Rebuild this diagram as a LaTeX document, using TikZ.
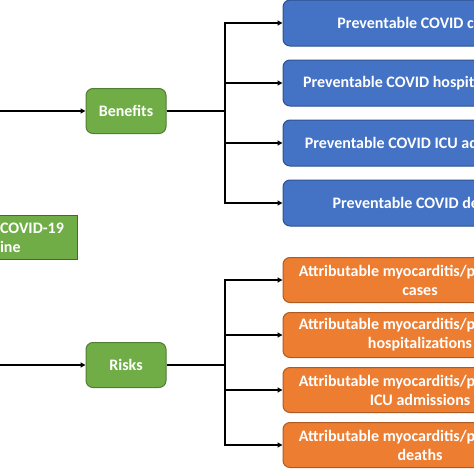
\documentclass[tikz,border=0pt]{standalone}
\usepackage{fontspec}
\setmainfont{Carlito}
\definecolor{vacgreen}{RGB}{112,173,71}
\definecolor{vacgreendark}{RGB}{80,126,50}
\definecolor{vacborder}{RGB}{66,92,112}
\definecolor{benblue}{RGB}{68,114,196}
\definecolor{benbluedark}{RGB}{47,82,143}
\definecolor{riskorange}{RGB}{237,125,49}
\definecolor{riskorangedark}{RGB}{174,90,33}
\usetikzlibrary{arrows.meta, positioning}

\begin{document}
\begin{tikzpicture}[x=1pt, y=-1pt,
          txt/.style={text=white, font=\bfseries\fontsize{16}{19}\selectfont, align=center},
          vacbox/.style={txt, draw=vacborder, fill=vacgreen, line width=1pt,
              minimum width=162pt, minimum height=44pt},
          catbox/.style={txt, draw=vacgreendark, fill=vacgreen, line width=1pt,
              rounded corners=7pt, minimum width=80pt, minimum height=45pt},
          benbox/.style={txt, draw=benbluedark, fill=benblue, line width=1pt,
              rounded corners=7pt, minimum width=274pt, minimum height=46pt},
          riskbox/.style={txt, draw=riskorangedark, fill=riskorange, line width=1pt,
              rounded corners=7pt, minimum width=274pt, minimum height=45pt},
          conn/.style={black, line width=1.6pt},
          arr/.style={conn, -{Triangle[length=5pt, width=5pt]}}
        ]
        \useasboundingbox (0,0) rectangle (474,474);
        \clip (0,0) rectangle (474,474);
        % vaccine and the two branches
        \node[vacbox] (vac) at (-4,237) {BNT162b2 COVID-19\\vaccine};
        \node[catbox] (ben) at (126,111) {Benefits};
        \node[catbox] (risk) at (126,365) {Risks};
        % benefit outcomes
        \node[benbox] (pcases) at (420,23) {Preventable COVID cases};
        \node[benbox, below=13pt of pcases] (phosp) {Preventable COVID hospitalizations};
        \node[benbox, below=13pt of phosp] (picu) {Preventable COVID ICU admissions};
        \node[benbox, below=13pt of picu] (pdeath) {Preventable COVID deaths};
        % risk outcomes
        \node[riskbox] (acases) at (420,280) {Attributable myocarditis/pericarditis\\cases};
        \node[riskbox, below=9pt of acases] (ahosp) {Attributable myocarditis/pericarditis\\hospitalizations};
        \node[riskbox, below=9pt of ahosp] (aicu) {Attributable myocarditis/pericarditis\\ICU admissions};
        \node[riskbox, below=9pt of aicu] (adeath) {Attributable myocarditis/pericarditis\\deaths};
        % connectors
        \draw[arr] (vac.west) -- ++(-20,0) |- (ben);
        \draw[arr] (vac.west) -- ++(-20,0) |- (risk);
        \coordinate (bensplit) at (225,111);
        \coordinate (risksplit) at (225,365);
        \draw[conn] (ben) -- (bensplit);
        \draw[conn] (risk) -- (risksplit);
        \foreach \n in {pcases, phosp, picu, pdeath}
          \draw[arr] (bensplit) |- (\n);
        \foreach \n in {acases, ahosp, aicu, adeath}
          \draw[arr] (risksplit) |- (\n);
      \end{tikzpicture}
\end{document}
